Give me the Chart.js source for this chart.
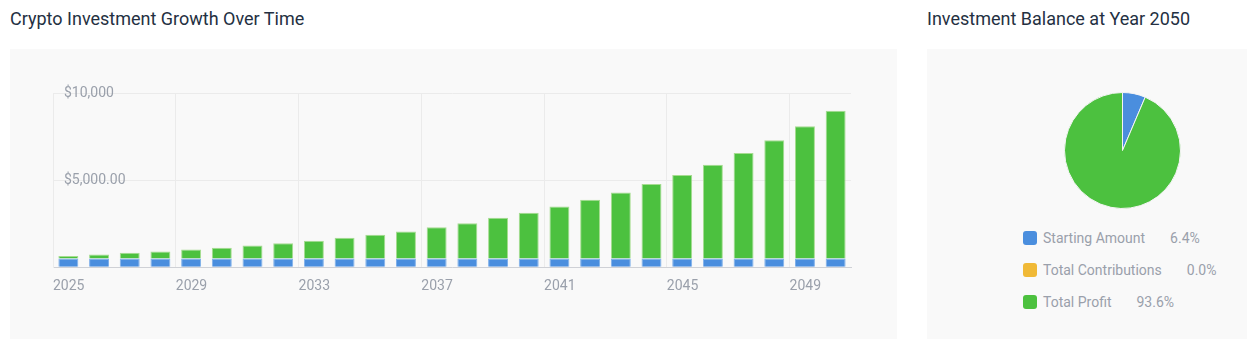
<!DOCTYPE html>
<html>
<head>
<meta charset="utf-8">
<script src="https://cdn.jsdelivr.net/npm/chart.js@4/dist/chart.umd.min.js"></script>
<style>
  body { margin: 0; background: #fff; font-family: Roboto, sans-serif; width: 1250px; height: 339px; position: relative; overflow: hidden; }
  .title { position: absolute; font-size: 18px; color: #243042; top: 8px; }
  .card { position: absolute; background: #f9f9f9; }
  #growthCard { left: 10px; top: 49px; width: 887px; height: 290px; }
  #balanceCard { left: 927px; top: 49px; width: 320px; height: 290px; }
  #pieWrap { position: absolute; left: 137px; top: 43px; width: 117px; height: 117px; }
  #legend { position: absolute; left: 96px; top: 173px; font-size: 14px; color: #9aa0ab; }
  .item { display: flex; align-items: center; height: 32px; }
  .box { width: 14px; height: 14px; border-radius: 3px; margin-right: 6px; }
  .pct { margin-left: 25px; }
</style>
</head>
<body>
<div class="title" style="left:10px">Crypto Investment Growth Over Time</div>
<div class="title" style="left:927px">Investment Balance at Year 2050</div>
<div class="card" id="growthCard"><canvas id="growthChart" width="887" height="290"></canvas></div>
<div class="card" id="balanceCard">
  <div id="pieWrap"><canvas id="pieChart" width="117" height="117"></canvas></div>
  <div id="legend"></div>
</div>
<script>
const years = ['2025','2026','2027','2028','2029','2030','2031','2032','2033','2034','2035','2036','2037',
  '2038','2039','2040','2041','2042','2043','2044','2045','2046','2047','2048','2049','2050'];
const startingAmount = [500,500,500,500,500,500,500,500,500,500,500,500,500,
  500,500,500,500,500,500,500,500,500,500,500,500,500];
const profit = [150,228,324,400,515,611,745,879,1013,1186,1358,1550,1799,
  2029,2336,2623,2987,3370,3792,4271,4788,5382,6053,6781,7586,8486];
const yTickValues = [0, 5000, 10000];
const yTickLabels = ['', '$5,000.00', '$10,000'];

const pieLabels = ['Starting Amount', 'Total Contributions', 'Total Profit'];
const pieValues = [6.4, 0.0, 93.6];
const pieColors = ['#4a8ede', '#f0b936', '#4cc13f'];

const tickColor = '#9aa0ab';
const gridColor = '#ebebeb';

new Chart(document.getElementById('growthChart'), {
  type: 'bar',
  data: {
    labels: years,
    datasets: [
      {
        label: 'Starting Amount',
        data: startingAmount,
        backgroundColor: '#4a8ede',
        borderColor: '#7fb0ea',
        borderWidth: 1,
        barPercentage: 0.65,
        categoryPercentage: 1
      },
      {
        label: 'Total Profit',
        data: profit,
        backgroundColor: '#4cc13f',
        borderColor: '#a6dc90',
        borderWidth: 1,
        barPercentage: 0.65,
        categoryPercentage: 1
      }
    ]
  },
  options: {
    responsive: false,
    animation: false,
    layout: { padding: { left: 21, top: 44, right: 46, bottom: 33 } },
    plugins: { legend: { display: false }, tooltip: { enabled: false } },
    scales: {
      x: { stacked: true, display: false },
      x2: {
        type: 'linear',
        position: 'bottom',
        min: 0,
        max: years.length,
        offset: false,
        grid: { color: gridColor, drawTicks: false, offset: false },
        border: { color: '#cfd1d6' },
        ticks: {
          stepSize: 4,
          align: 'start',
          padding: 11,
          color: tickColor,
          font: { family: 'Roboto', size: 14 },
          callback: v => years[v] === undefined ? null : years[v]
        }
      },
      y: {
        stacked: true,
        min: 0,
        max: 10000,
        grid: { color: gridColor, drawTicks: false },
        border: { color: gridColor },
        afterBuildTicks: axis => { axis.ticks = yTickValues.map(v => ({ value: v })); },
        ticks: {
          mirror: true,
          padding: 11,
          color: tickColor,
          font: { family: 'Roboto', size: 14 },
          callback: v => yTickLabels[yTickValues.indexOf(v)]
        }
      }
    }
  }
});

new Chart(document.getElementById('pieChart'), {
  type: 'pie',
  data: {
    labels: pieLabels,
    datasets: [{ data: pieValues, backgroundColor: pieColors, borderColor: '#f4f4f4', borderWidth: 1 }]
  },
  options: {
    responsive: false,
    animation: false,
    plugins: { legend: { display: false }, tooltip: { enabled: false } }
  }
});

const legend = document.getElementById('legend');
pieLabels.forEach((label, i) => {
  const row = document.createElement('div');
  row.className = 'item';
  row.innerHTML = '<span class="box" style="background:' + pieColors[i] + '"></span>' +
    '<span>' + label + '</span><span class="pct">' + pieValues[i].toFixed(1) + '%</span>';
  legend.appendChild(row);
});
</script>
</body>
</html>
